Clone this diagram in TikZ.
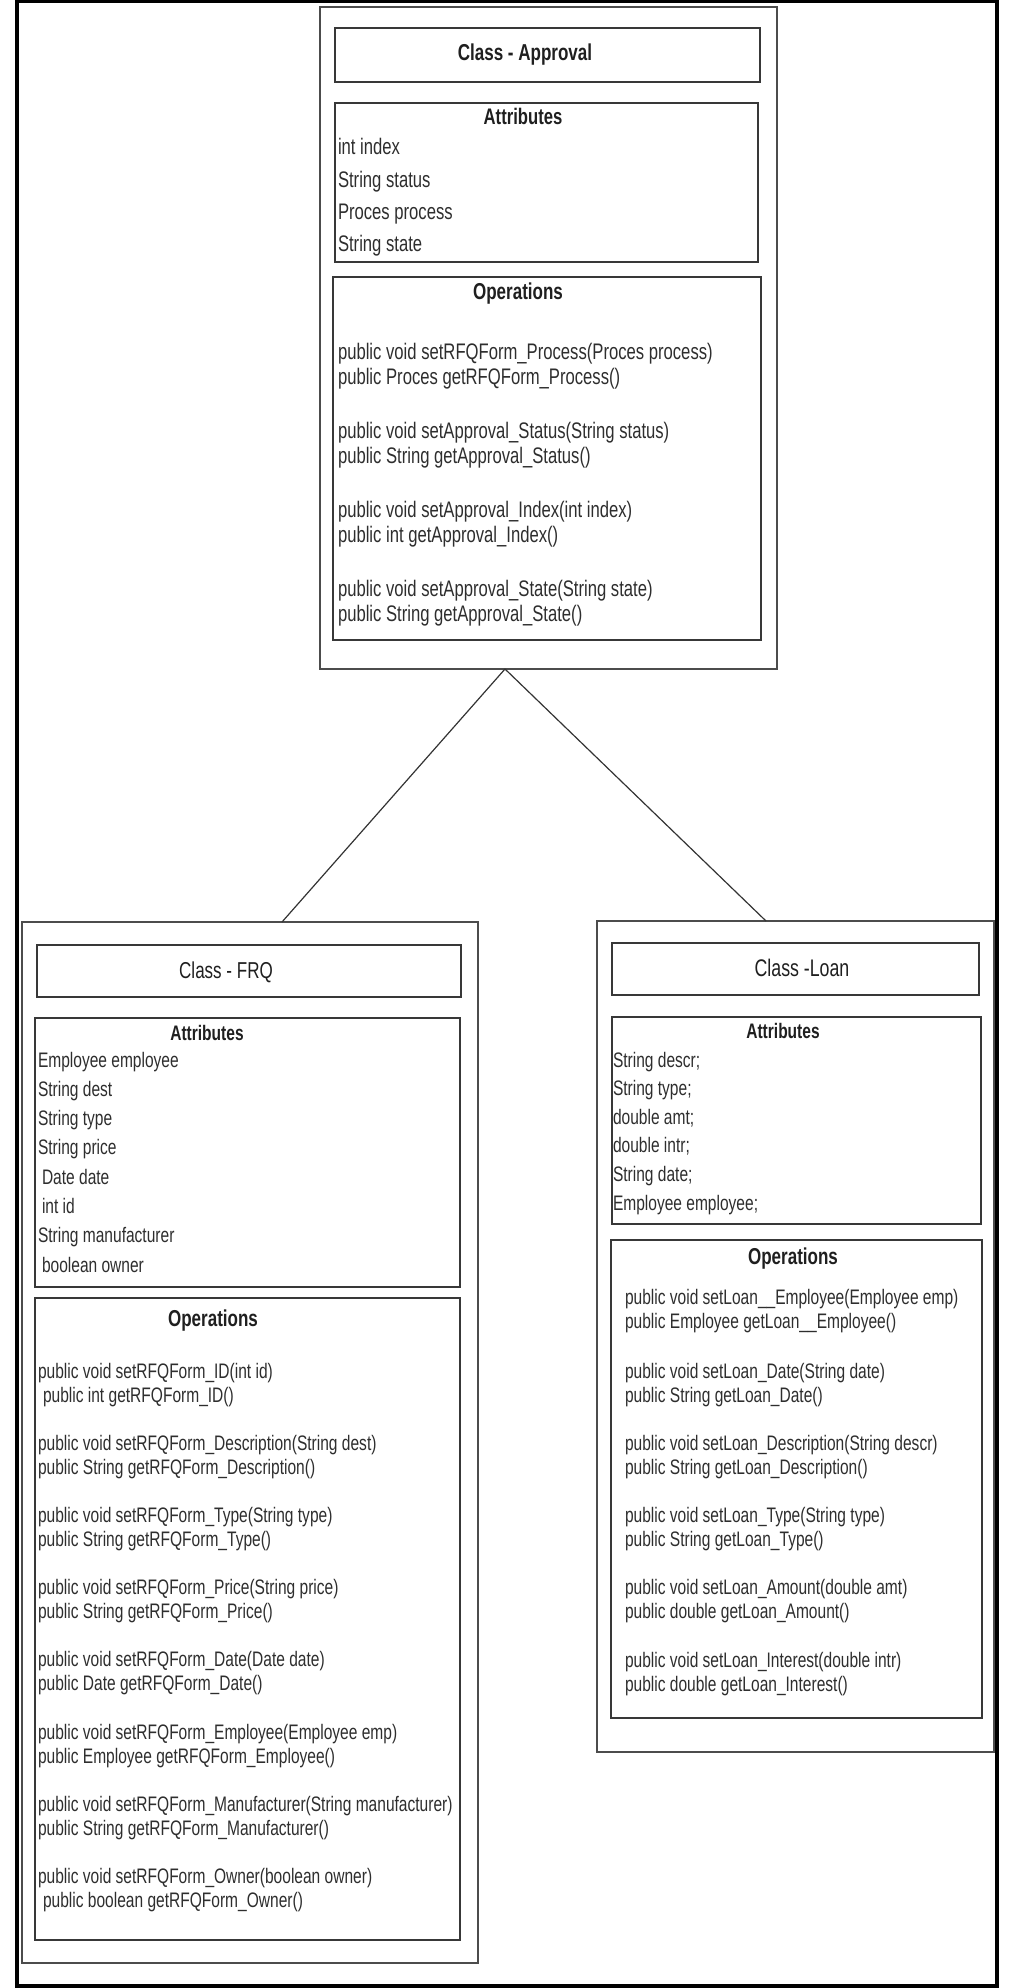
\documentclass[tikz,border=0pt]{standalone}
\usepackage{fontspec}
\setmainfont[FakeStretch=0.74]{Liberation Sans}
\begin{document}
\begin{tikzpicture}[x=1pt,y=-1pt,
  obox/.style={draw=black!70, line width=1.6pt, inner sep=0pt, outer sep=0pt},
  box/.style={draw=black!78, line width=1.9pt, inner sep=0pt, outer sep=0pt},
  txt/.style={inner sep=0pt, outer sep=0pt, text=black!82, anchor=base west},
  hdr/.style={inner sep=0pt, outer sep=0pt, text=black!88, anchor=base},
  fa/.style={font=\fontsize{22.5}{25}\selectfont},
  fs/.style={font=\fontsize{21}{24}\selectfont},
  hb/.style={font=\bfseries\fontsize{21}{24}\selectfont},
  link/.style={draw=black!80, line width=1.2pt}]
\useasboundingbox (0,0) rectangle (1016,1988);
% outer frame
\draw[line width=4pt] (17,1.5) rectangle (997,1985.5);

% ---------- Class - Approval ----------
\node[obox, minimum width=457pt, minimum height=662pt] (A) at (548.5,338) {};
\node[box, minimum width=425pt, minimum height=54pt] (At) at (547.5,55) {};
\node[box, minimum width=423pt, minimum height=159pt] (Aa) at (546.5,182.5) {};
\node[box, minimum width=428pt, minimum height=363pt] (Ao) at (547,458.5) {};
\node[hdr, font=\bfseries\fontsize{23}{26}\selectfont] (Atn) at (525,61) {Class - Approval};
\node[hdr, font=\bfseries\fontsize{22.5}{25}\selectfont] (Aah) at (523,125) {Attributes};
\node[hdr, font=\bfseries\fontsize{23}{26}\selectfont] (Aoh) at (518,299) {Operations};
\foreach \t [count=\i from 0] in {int index, String status, Proces process, String state}
  {\pgfmathsetmacro\yy{155+32.2*\i}
   \node[txt,fa] (aa\i) at (338,\yy) {\t};}
\foreach \t [count=\i from 0] in {
  public void setRFQForm\_Process(Proces process),
  public Proces getRFQForm\_Process(),
  public void setApproval\_Status(String status),
  public String getApproval\_Status(),
  public void setApproval\_Index(int index),
  public int getApproval\_Index(),
  public void setApproval\_State(String state),
  public String getApproval\_State()}
  {\pgfmathsetmacro\yy{359+79.3*int(\i/2)+25*mod(\i,2)}
   \node[txt,fa] (ao\i) at (338,\yy) {\t};}

% ---------- Class - FRQ ----------
\node[obox, minimum width=456pt, minimum height=1041pt] (F) at (250,1442.5) {};
\node[box, minimum width=424pt, minimum height=52pt] (Ft) at (249,971) {};
\node[box, minimum width=425pt, minimum height=269pt] (Fa) at (247.5,1152.5) {};
\node[box, minimum width=425pt, minimum height=642pt] (Fo) at (247.5,1619) {};
\node[hdr, font=\fontsize{23}{26}\selectfont] (Ftn) at (226,978) {Class - FRQ};
\node[hdr, hb] (Fah) at (207,1040) {Attributes};
\node[hdr, font=\bfseries\fontsize{23}{26}\selectfont] (Foh) at (213,1326) {Operations};
\foreach \t [count=\i from 0] in {Employee employee, String dest, String type, String price,
  \hspace*{4pt}Date date, \hspace*{4pt}int id, String manufacturer, \hspace*{4pt}boolean owner}
  {\pgfmathsetmacro\yy{1067+29.3*\i}
   \node[txt,fs] (fa\i) at (38,\yy) {\t};}
\foreach \t [count=\i from 0] in {
  public void setRFQForm\_ID(int id),
  \hspace*{5pt}public int getRFQForm\_ID(),
  public void setRFQForm\_Description(String dest),
  public String getRFQForm\_Description(),
  public void setRFQForm\_Type(String type),
  public String getRFQForm\_Type(),
  public void setRFQForm\_Price(String price),
  public String getRFQForm\_Price(),
  public void setRFQForm\_Date(Date date),
  public Date getRFQForm\_Date(),
  public void setRFQForm\_Employee(Employee emp),
  public Employee getRFQForm\_Employee(),
  public void setRFQForm\_Manufacturer(String manufacturer),
  public String getRFQForm\_Manufacturer(),
  public void setRFQForm\_Owner(boolean owner),
  \hspace*{5pt}public boolean getRFQForm\_Owner()}
  {\pgfmathsetmacro\yy{1378+72.2*int(\i/2)+24*mod(\i,2)}
   \node[txt,fs] (fo\i) at (38,\yy) {\t};}

% ---------- Class -Loan ----------
\node[obox, minimum width=397pt, minimum height=831pt] (L) at (795.5,1336.5) {};
\node[box, minimum width=367pt, minimum height=52pt] (Lt) at (795.5,969) {};
\node[box, minimum width=369pt, minimum height=207pt] (La) at (796.5,1120.5) {};
\node[box, minimum width=371pt, minimum height=478pt] (Lo) at (796.5,1479) {};
\node[hdr, font=\fontsize{24}{27}\selectfont] (Ltn) at (802,976) {Class -Loan};
\node[hdr, hb] (Lah) at (783,1038) {Attributes};
\node[hdr, font=\bfseries\fontsize{23}{26}\selectfont] (Loh) at (793,1264) {Operations};
\foreach \t [count=\i from 0] in {String descr;, String type;, double amt;, double intr;,
  String date;, Employee employee;}
  {\pgfmathsetmacro\yy{1067+28.6*\i}
   \node[txt,fs] (la\i) at (613,\yy) {\t};}
\foreach \t [count=\i from 0] in {
  public void setLoan\_\_Employee(Employee emp),
  public Employee getLoan\_\_Employee(),
  public void setLoan\_Date(String date),
  public String getLoan\_Date(),
  public void setLoan\_Description(String descr),
  public String getLoan\_Description(),
  public void setLoan\_Type(String type),
  public String getLoan\_Type(),
  public void setLoan\_Amount(double amt),
  public double getLoan\_Amount(),
  public void setLoan\_Interest(double intr),
  public double getLoan\_Interest()}
  {\pgfmathsetmacro\yy{(\i<2 ? 1304 : 1378+72.3*(int(\i/2)-1))+24*mod(\i,2)}
   \node[txt,fs] (lo\i) at (625,\yy) {\t};}

% ---------- connectors ----------
\coordinate (apex) at ([xshift=-43.5pt]A.south);
\coordinate (fend) at ([xshift=32pt]F.north);
\coordinate (lend) at ([xshift=-29.5pt]L.north);
\draw[link] (fend) -- (apex);
\draw[link] (apex) -- (lend);
\end{tikzpicture}
\end{document}
